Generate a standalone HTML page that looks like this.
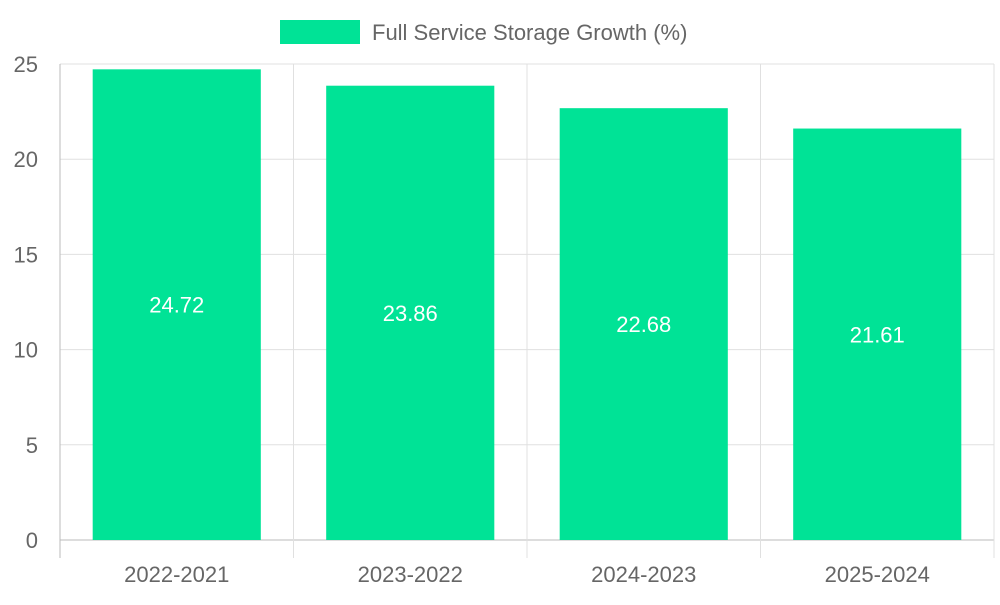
<!DOCTYPE html>
<html><head><meta charset="utf-8"><style>
body{margin:0;background:#fff}
svg text{font-family:"Liberation Sans",sans-serif}
</style></head><body>
<svg id="c" width="1000" height="600">
<rect x="280" y="20" width="80" height="24" fill="#00e396"/>
<text x="372" y="40" font-size="22" fill="#666">Full Service Storage Growth (%)</text>
<g id="grid"></g><g id="bars"></g><g id="labels"></g>
</svg>
<script>
const categories=["2022-2021","2023-2022","2024-2023","2025-2024"];
const values=[24.72,23.86,22.68,21.61];
const yTicks=[0,5,10,15,20,25];
const svg=document.getElementById('c');
const NS='http://www.w3.org/2000/svg';
const L=60,R=994,T=64,B=540,yMax=25;
const y=v=>B-(v/yMax)*(B-T);
const cw=(R-L)/categories.length;
const x=i=>L+cw*i;
function mk(t,a,p){const e=document.createElementNS(NS,t);for(const k in a)e.setAttribute(k,a[k]);p.appendChild(e);return e;}
const g=document.getElementById('grid');
yTicks.forEach(t=>{
 const ln=mk('line',{x1:L,x2:R,y1:y(t),y2:y(t),stroke:t===0?'#bbb':'#e0e0e0','stroke-width':1},g);
 
 
 const tx=mk('text',{x:38,y:y(t)+8,'text-anchor':'end','font-size':22,fill:'#666'},g);tx.textContent=t;
 
 
});
for(let i=0;i<=categories.length;i++){
 const ln=mk('line',{x1:x(i),x2:x(i),y1:T,y2:558,stroke:i===0?'#bbb':'#e0e0e0','stroke-width':1},g);
 
 
}
const bg=document.getElementById('bars'),lg=document.getElementById('labels');
values.forEach((v,i)=>{
 const bw=cw*0.72,bx=x(i)+(cw-bw)/2;
 const r=mk('rect',{x:bx,y:y(v),width:bw,height:B-y(v),fill:'#00e396'},bg);
 
 
 const t=mk('text',{x:bx+bw/2,y:(y(v)+B)/2+8,'text-anchor':'middle','font-size':22,fill:'#fff'},lg);t.textContent=v.toFixed(2);
 
 
 const c=mk('text',{x:x(i)+cw/2,y:582,'text-anchor':'middle','font-size':22,fill:'#666'},lg);c.textContent=categories[i];
 
 
});
</script>
</body></html>
